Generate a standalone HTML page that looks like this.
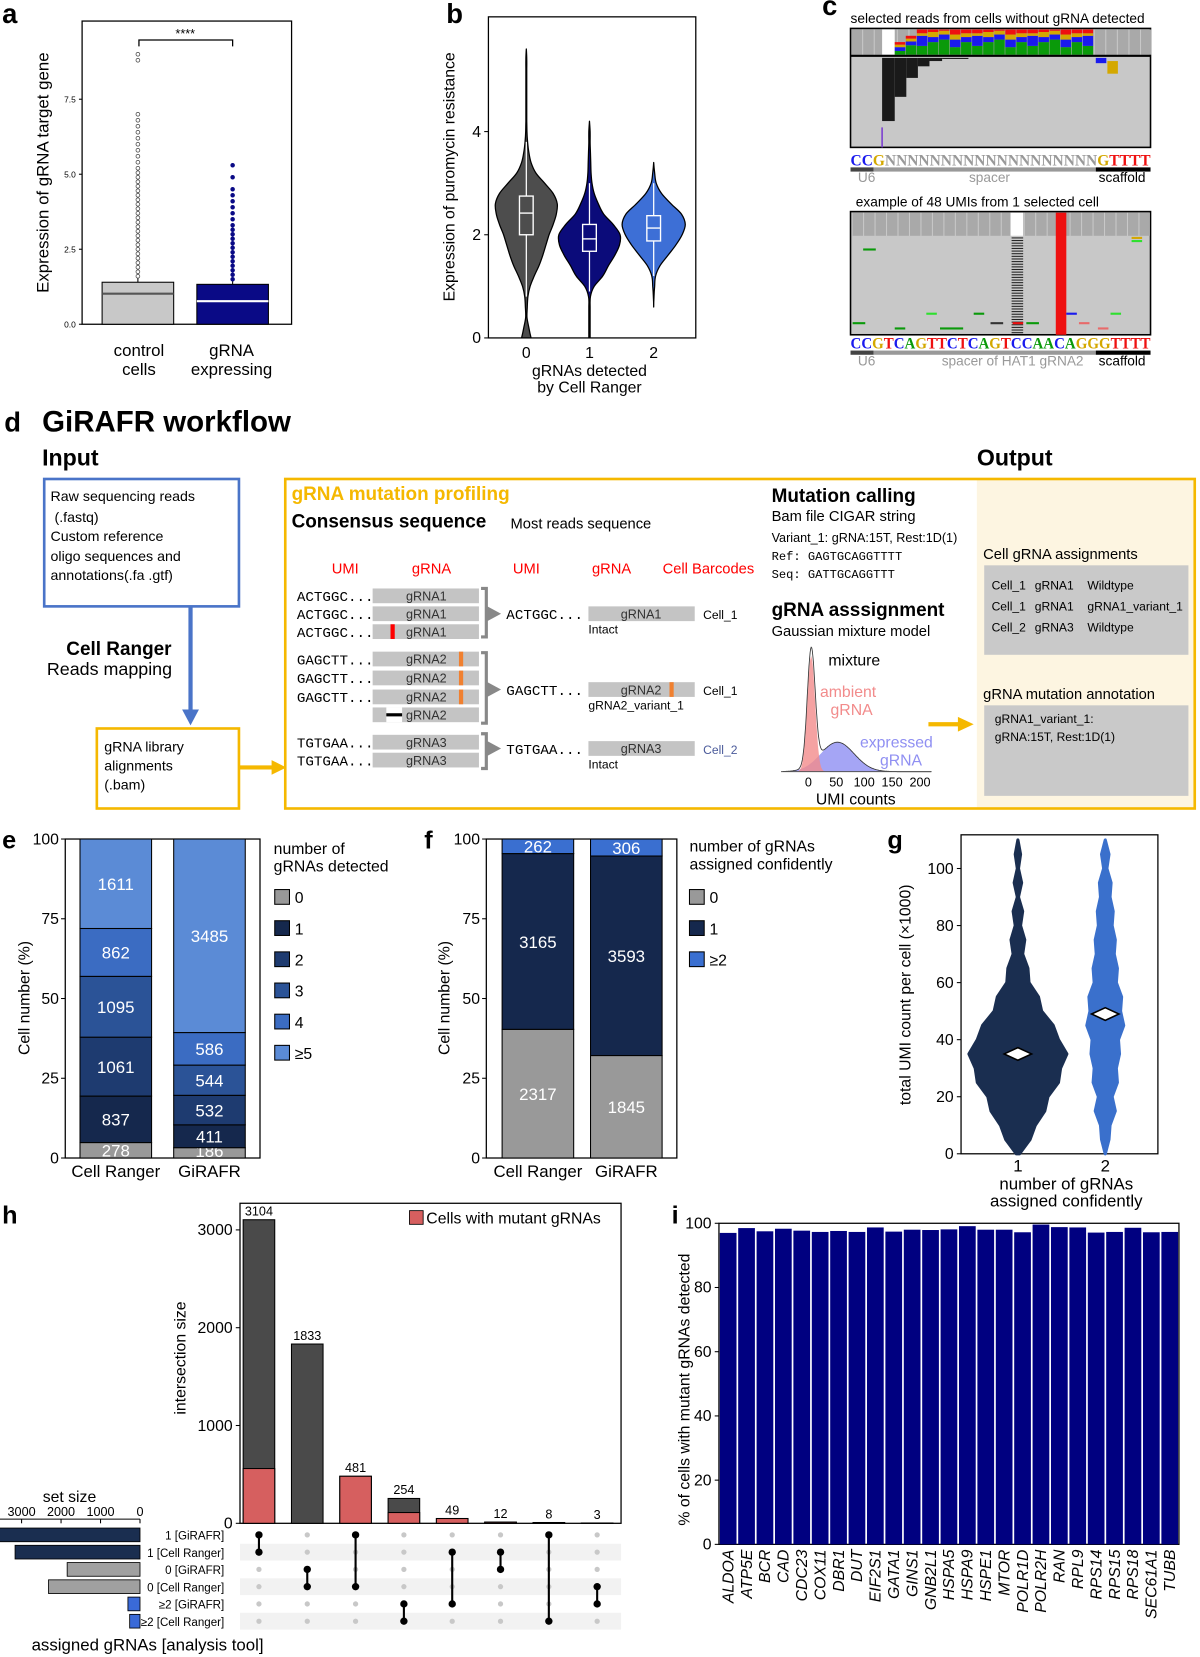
<!DOCTYPE html>
<html><head><meta charset="utf-8"><style>
html,body{margin:0;padding:0;background:#fff;}
svg{display:block;font-family:"Liberation Sans",sans-serif;}
.n{font-family:"Liberation Sans Narrow","Liberation Sans",sans-serif;}
.m{font-family:"Liberation Mono",monospace;}
</style></head><body>
<svg id="fig" xmlns="http://www.w3.org/2000/svg" width="1200" height="1657" viewBox="0 0 1140 1574" preserveAspectRatio="none">
<rect x="0" y="0" width="1140" height="1574" fill="#fff"/>
<text x="2" y="22" font-size="26" font-weight="bold">a</text>
<text x="424" y="22" font-size="26" font-weight="bold">b</text>
<text x="781" y="14" font-size="26" font-weight="bold">c</text>
<text x="4" y="410" font-size="26" font-weight="bold">d</text>
<text x="2" y="806" font-size="24" font-weight="bold">e</text>
<text x="403" y="806" font-size="24" font-weight="bold">f</text>
<text x="843" y="806" font-size="24" font-weight="bold">g</text>
<text x="2" y="1162" font-size="24" font-weight="bold">h</text>
<text x="638" y="1162" font-size="24" font-weight="bold">i</text>

<g id="pa">
<rect x="78" y="20" width="199" height="288" fill="none" stroke="#000" stroke-width="1.2"/>
<text transform="translate(46,164) rotate(-90)" text-anchor="middle" font-size="16">Expression of gRNA target gene</text>
<path d="M132,44 V38 H221 V44" fill="none" stroke="#000" stroke-width="1.2"/>
<text x="176" y="36" text-anchor="middle" font-size="12">****</text>
<text x="132" y="338" text-anchor="middle" font-size="16">control</text>
<text x="132" y="356" text-anchor="middle" font-size="16">cells</text>
<text x="220" y="338" text-anchor="middle" font-size="16">gRNA</text>
<text x="220" y="356" text-anchor="middle" font-size="16">expressing</text>
</g>

<g id="pb">
<rect x="464" y="16" width="197" height="305" fill="none" stroke="#000" stroke-width="1.2"/>
<text transform="translate(432,168) rotate(-90)" text-anchor="middle" font-size="15">Expression of puromycin resistance</text>
<text x="560" y="357" text-anchor="middle" font-size="15">gRNAs detected</text>
<text x="560" y="373" text-anchor="middle" font-size="15">by Cell Ranger</text>
</g>

<g id="pc">
<text x="808" y="22" font-size="13">selected reads from cells without gRNA detected</text>
<text x="813" y="196" font-size="13">example of 48 UMIs from 1 selected cell</text>
</g>

<g id="pd">
<text x="40" y="410" font-size="28" font-weight="bold">GiRAFR workflow</text>
<text x="40" y="442" font-size="22" font-weight="bold" class="n">Input</text>
<text x="928" y="442" font-size="22" font-weight="bold" class="n">Output</text>
<rect x="42" y="455" width="185" height="121" fill="#fff" stroke="#4a74c8" stroke-width="2.5"/>
<text font-size="13.5"><tspan x="48" y="476">Raw sequencing reads</tspan><tspan x="48" y="496"> (.fastq)</tspan><tspan x="48" y="514">Custom reference</tspan><tspan x="48" y="533">oligo sequences and</tspan><tspan x="48" y="551">annotations(.fa .gtf)</tspan></text>
<line x1="181" y1="576" x2="181" y2="676" stroke="#4a74c8" stroke-width="4"/>
<polygon points="173,674 189,674 181,689" fill="#4a74c8"/>
<text x="113" y="622" text-anchor="middle" font-size="18" font-weight="bold">Cell Ranger</text>
<text x="104" y="641" text-anchor="middle" font-size="17">Reads mapping</text>
<rect x="92" y="692" width="135" height="76" fill="#fff" stroke="#f5b800" stroke-width="2.5"/>
<text font-size="13.5"><tspan x="99" y="714">gRNA library</tspan><tspan x="99" y="732">alignments</tspan><tspan x="99" y="750">(.bam)</tspan></text>
<line x1="228" y1="729" x2="260" y2="729" stroke="#f5b800" stroke-width="4"/>
<polygon points="258,722 272,729 258,736" fill="#f5b800"/>
<rect x="928" y="456" width="206" height="311" fill="#fdf5e1"/>
<rect x="271" y="455" width="864" height="313" fill="none" stroke="#f5b800" stroke-width="2.5"/>
<text x="277" y="475" font-size="18" font-weight="bold" fill="#f5b800">gRNA mutation profiling</text>
<text x="277" y="501" font-size="18" font-weight="bold">Consensus sequence</text>
<text x="485" y="502" font-size="14">Most reads sequence</text>
<g font-size="14" fill="#f00">
<text x="328" y="545" text-anchor="middle">UMI</text>
<text x="410" y="545" text-anchor="middle">gRNA</text>
<text x="500" y="545" text-anchor="middle">UMI</text>
<text x="581" y="545" text-anchor="middle">gRNA</text>
<text x="673" y="545" text-anchor="middle">Cell Barcodes</text>
</g>
<g id="dreads"></g>
<text x="733" y="477" font-size="18" font-weight="bold">Mutation calling</text>
<text x="733" y="495" font-size="14">Bam file CIGAR string</text>
<text x="733" y="515" font-size="12">Variant_1: gRNA:15T, Rest:1D(1)</text>
<text x="733" y="532" font-size="11.5" class="m">Ref: GAGTGCAGGTTTT</text>
<text x="733" y="549" font-size="11.5" class="m">Seq: GATTGCAGGTTT</text>
<text x="733" y="585" font-size="18" font-weight="bold">gRNA asssignment</text>
<text x="733" y="604" font-size="14">Gaussian mixture model</text>
<g id="dmix"></g>
<text x="787" y="632" font-size="15">mixture</text>
<text x="779" y="662" font-size="15" fill="#f28b8b">ambient</text>
<text x="789" y="679" font-size="15" fill="#f28b8b">gRNA</text>
<text x="817" y="710" font-size="15" fill="#8f8ff2">expressed</text>
<text x="836" y="727" font-size="15" fill="#8f8ff2">gRNA</text>
<text x="813" y="764" text-anchor="middle" font-size="15">UMI counts</text>
<line x1="882" y1="688" x2="912" y2="688" stroke="#f5b800" stroke-width="4"/>
<polygon points="910,681 925,688 910,695" fill="#f5b800"/>
<text x="934" y="531" font-size="14">Cell gRNA assignments</text>
<rect x="935" y="537" width="194" height="85" fill="#c9c9c9"/>
<g font-size="11.5">
<text x="942" y="560">Cell_1<tspan x="983">gRNA1</tspan><tspan x="1033">Wildtype</tspan></text>
<text x="942" y="580">Cell_1<tspan x="983">gRNA1</tspan><tspan x="1033">gRNA1_variant_1</tspan></text>
<text x="942" y="600">Cell_2<tspan x="983">gRNA3</tspan><tspan x="1033">Wildtype</tspan></text>
</g>
<text x="934" y="664" font-size="14">gRNA mutation annotation</text>
<rect x="935" y="670" width="194" height="86" fill="#c9c9c9"/>
<text x="945" y="687" font-size="11.5">gRNA1_variant_1:</text>
<text x="945" y="704" font-size="11.5">gRNA:15T, Rest:1D(1)</text>
</g>

<text transform="translate(28,948) rotate(-90)" text-anchor="middle" font-size="15">Cell number (%)</text>
<text x="260" y="811" font-size="15">number of</text>
<text x="260" y="828" font-size="15">gRNAs detected</text>
<text transform="translate(427,948) rotate(-90)" text-anchor="middle" font-size="15">Cell number (%)</text>
<text x="655" y="809" font-size="15">number of gRNAs</text>
<text x="655" y="826" font-size="15">assigned confidently</text>
<text transform="translate(865,945) rotate(-90)" text-anchor="middle" font-size="15">total UMI count per cell (×1000)</text>
<text x="1013" y="1130" text-anchor="middle" font-size="16">number of gRNAs</text>
<text x="1013" y="1146" text-anchor="middle" font-size="16">assigned confidently</text>
<text transform="translate(176,1290) rotate(-90)" text-anchor="middle" font-size="15">intersection size</text>
<text x="66" y="1427" text-anchor="middle" font-size="15">set size</text>
<text x="30" y="1568" font-size="16">assigned gRNAs [analysis tool]</text>
<text transform="translate(655,1320) rotate(-90)" text-anchor="middle" font-size="15">% of cells with mutant gRNAs detected</text>
<g id="charts"></g>
</svg>
<script>
// ---------- data ----------
// panel a
const aGroups = ['control', 'gRNA'];
const aMedian = [1.02, 0.77];
const aQ3 = [1.4, 1.33];
const aOutCtrl = [1.6,1.75,1.9,2.05,2.2,2.35,2.5,2.65,2.8,2.95,3.1,3.25,3.4,3.55,3.7,3.85,4.0,4.15,4.3,4.45,4.6,4.75,4.9,5.05,5.2,5.4,5.6,5.8,6.0,6.2,6.4,6.6,6.8,7.0,8.8,9.0];
const aOutGrna = [1.5,1.65,1.8,1.95,2.1,2.25,2.4,2.55,2.7,2.85,3.0,3.15,3.3,3.5,3.7,3.9,4.1,4.3,4.5,4.9,5.3];
const aTicks = [0, 2.5, 5.0, 7.5];
// panel b
const bLevels = [0,0.2,0.4,0.6,0.8,1.0,1.2,1.4,1.6,1.8,2.0,2.2,2.4,2.6,2.8,3.0,3.2,3.4,3.6,3.8,4.0,4.2,4.4,4.6,4.8,5.0,5.2,5.4,5.6];
const bDens0 = [0.15,0.08,0.02,0.03,0.05,0.12,0.25,0.4,0.52,0.62,0.72,0.85,0.95,0.98,0.85,0.58,0.3,0.15,0.08,0.04,0.02,0.015,0.015,0.015,0.015,0.015,0.015,0.015,0];
const bDens1 = [0.02,0.02,0.02,0.02,0.03,0.15,0.42,0.6,0.8,0.95,0.97,0.75,0.45,0.28,0.15,0.08,0.05,0.04,0.03,0.02,0.02,0,0,0,0,0,0,0,0];
const bDens2 = [0,0,0,0,0.01,0.03,0.06,0.2,0.45,0.7,0.9,1.0,0.88,0.55,0.25,0.08,0.03,0,0,0,0,0,0,0,0,0,0,0,0];
const bBoxes = [[2.0,2.42,2.75],[1.68,1.92,2.2],[1.88,2.13,2.37]];
const bWhisk = [[0.8,3.8],[0.9,3.0],[1.2,3.0]];
const bTicks = [0,2,4];
// panel e
const eTools = ['Cell Ranger','GiRAFR'];
const eLegend = ['0','1','2','3','4','≥5'];
const eCR = [278,837,1061,1095,862,1611];
const eGi = [186,411,532,544,586,3485];
// panel f
const fLegend = ['0','1','≥2'];
const fCR = [2317,3165,262];
const fGi = [1845,3593,306];
const pctTicks = [0,25,50,75,100];
// panel g
const gBins = [0,5,10,15,20,25,30,35,40,45,50,55,60,65,70,75,80,85,90,95,100,105,110];
const gWidth1 = [3,10,18,24,30,37,42,45,40,32,24,18,12,8,6,5,4,3,2,2,2,1,0];
const gWidth2 = [0,2,6,8,8,10,12,12,14,16,16,14,12,10,10,8,8,6,6,4,3,2,0];
const gMeans = [35,49];
const gTicks = [0,20,40,60,80,100];
// panel h
const hCounts = [3104,1833,481,254,49,12,8,3];
const hMutant = [560,0,481,110,49,12,8,3];
const hSets = ['1 [GiRAFR]','1 [Cell Ranger]','0 [GiRAFR]','0 [Cell Ranger]','≥2 [GiRAFR]','≥2 [Cell Ranger]'];
const hSetSize = [3593,3165,1845,2317,306,262];
const hCombos = [[0,1],[2,3],[0,3],[4,5],[1,4],[1,2],[0,5],[3,4]];
const hTicks = [0,1000,2000,3000];
const hSetTicks = [3000,2000,1000,0];
// panel i
const iGenes = ['ALDOA','ATP5E','BCR','CAD','CDC23','COX11','DBR1','DUT','EIF2S1','GATA1','GINS1','GNB2L1','HSPA5','HSPA9','HSPE1','MTOR','POLR1D','POLR2H','RAN','RPL9','RPS14','RPS15','RPS18','SEC61A1','TUBB'];
const iValues = [97,98.5,97.5,98.3,97.7,97.3,97.6,97.3,98.7,97.4,98,97.9,98.1,99.1,98,98,97.2,99.6,98.8,98.7,97.1,97.3,98.6,97.2,97.3];
const iTicks = [0,20,40,60,80,100];

const NS = 'http://www.w3.org/2000/svg';
const root = document.getElementById('charts');
function mk(tag, attrs, txt, parent) {
  const el = document.createElementNS(NS, tag);
  for (const k in attrs) el.setAttribute(k, attrs[k]);
  if (txt !== undefined) el.textContent = txt;
  (parent || root).appendChild(el);
  return el;
}
let el;

// ---------- panel a ----------
const ya = v => 308 - v * 28.5;
aTicks.forEach(t => {
  el = mk('line', {x1:75, x2:78, y1:ya(t), y2:ya(t), stroke:'#000'});
  
  
  el = mk('text', {x:72, y:ya(t)+3, 'text-anchor':'end', 'font-size':8}, t.toFixed(1));
  
  
});
const aX = [131, 221], aFill = ['#c8c8c8', '#0a0a86'], aMed = ['#555', '#fff'];
[aOutCtrl, aOutGrna].forEach((outs, g) => {
  el = mk('line', {x1:aX[g], x2:aX[g], y1:ya(aQ3[g]), y2:ya(outs[0]), stroke:'#000'});
  
  
  outs.forEach(v => {
    el = mk('circle', {cx:aX[g], cy:ya(v), r:1.8, fill: g ? '#0a0a86' : '#fff', stroke: g ? '#0a0a86' : '#444', 'stroke-width':0.7});
    
    
  });
  el = mk('rect', {x:aX[g]-34, y:ya(aQ3[g]), width:68, height:ya(0)-ya(aQ3[g]), fill:aFill[g], stroke:'#000'});
  
  
  el = mk('line', {x1:aX[g]-34, x2:aX[g]+34, y1:ya(aMedian[g]), y2:ya(aMedian[g]), stroke:aMed[g], 'stroke-width':2});
  
  
});

// ---------- panel b ----------
const yb = v => 321 - v * 49;
const bX = [500, 560, 621], bCol = ['#4d4d4d', '#0b0b7a', '#3d6fd6'];
bTicks.forEach(t => {
  el = mk('line', {x1:460, x2:464, y1:yb(t), y2:yb(t), stroke:'#000'});
  
  
  el = mk('text', {x:457, y:yb(t)+5, 'text-anchor':'end', 'font-size':15}, t);
  
  
});
function smooth(pts) {
  let p = 'M' + pts[0][0].toFixed(1) + ',' + pts[0][1].toFixed(1);
  for (let i = 0; i < pts.length - 1; i++) {
    const p0 = pts[Math.max(0, i-1)], p1 = pts[i], p2 = pts[i+1], p3 = pts[Math.min(pts.length-1, i+2)];
    const c1 = [p1[0] + (p2[0]-p0[0])/6, p1[1] + (p2[1]-p0[1])/6];
    const c2 = [p2[0] - (p3[0]-p1[0])/6, p2[1] - (p3[1]-p1[1])/6];
    p += ` C${c1[0].toFixed(1)},${c1[1].toFixed(1)} ${c2[0].toFixed(1)},${c2[1].toFixed(1)} ${p2[0].toFixed(1)},${p2[1].toFixed(1)}`;
  }
  return p;
}
[bDens0, bDens1, bDens2].forEach((d, g) => {
  let first = d.findIndex(v => v > 0), last = d.length - 1 - [...d].reverse().findIndex(v => v > 0);
  let lo = Math.max(0, first - 1), hi = Math.min(d.length - 1, last + 1);
  let R = [], L = [];
  for (let i = lo; i <= hi; i++) { R.push([bX[g] + d[i]*30, yb(bLevels[i])]); L.push([bX[g] - d[i]*30, yb(bLevels[i])]); }
  let p = smooth(R) + ' L' + L[L.length-1][0] + ',' + L[L.length-1][1] + ' ' + smooth(L.reverse()).slice(1).replace(/^[^C]*/, '');
  el = mk('path', {d:p + 'Z', fill:bCol[g], stroke:'#000', 'stroke-width':1.2, 'stroke-linejoin':'round'});
  
  
  el = mk('line', {x1:bX[g], x2:bX[g], y1:yb(bWhisk[g][0]), y2:yb(bWhisk[g][1]), stroke:'#fff', 'stroke-width':1.2});
  
  
  const b = bBoxes[g];
  el = mk('rect', {x:bX[g]-6.5, y:yb(b[2]), width:13, height:yb(b[0])-yb(b[2]), fill:bCol[g], stroke:'#fff', 'stroke-width':1.3});
  
  
  el = mk('line', {x1:bX[g]-6.5, x2:bX[g]+6.5, y1:yb(b[1]), y2:yb(b[1]), stroke:'#fff', 'stroke-width':1.3});
  
  
  el = mk('text', {x:bX[g], y:340, 'text-anchor':'middle', 'font-size':15}, g);
  
  
});

// ---------- panel c ----------
function cBox(y0, h) {
  el = mk('rect', {x:808, y:y0, width:285, height:h, fill:'#c8c8c8', stroke:'#000', 'stroke-width':1.5});
  
  
}
cBox(27, 113);
for (let i = 0; i < 26; i++) {
  el = mk('rect', {x:809 + i * 11, y:28, width:10, height:24, fill:'#a9a9a9'});
  
  
}
el = mk('rect', {x:838, y:28, width:12, height:24, fill:'#fff'});


const cStackCols = ['#0a9a0a', '#1a1aee', '#d4a800', '#ee1010'];
for (let i = 0; i < 18; i++) {
  const x = 850 + i * 10.5;
  const fr = [[0.3,0.3,0.2,0.2],[0.5,0.2,0.15,0.15],[0.35,0.4,0.1,0.15],[0.5,0.2,0.2,0.1],[0.6,0.2,0.15,0.05]][i % 5];
  let yy = 52; const tot = i < 2 ? 12 + i * 6 : 24;
  fr.forEach((f, k) => {
    el = mk('rect', {x:x, y:yy - f*tot, width:10, height:f*tot, fill:cStackCols[k]});
    
    
    yy -= f*tot;
  });
}
el = mk('line', {x1:808, x2:1093, y1:53, y2:53, stroke:'#000', 'stroke-width':2});


[[838,850,115],[850,861,92],[861,872,74],[872,883,63],[883,895,58],[895,920,56]].forEach(s => {
  el = mk('rect', {x:s[0], y:55, width:s[1]-s[0], height:s[2]-55, fill:'#1a1a1a'});
  
  
});
el = mk('rect', {x:1041, y:55, width:10, height:5, fill:'#1a1aee'});


el = mk('rect', {x:1052, y:58, width:10, height:12, fill:'#d4a800'});


el = mk('line', {x1:838, x2:838, y1:121, y2:140, stroke:'#7b3fd0', 'stroke-width':1.5});


function cSeq(y, letters, cols, lab) {
  const t = mk('text', {x:808, y:y, 'font-size':15, 'font-family':'Liberation Serif, serif', 'font-weight':'bold', textLength:285, lengthAdjust:'spacingAndGlyphs'});
  
  
  for (let i = 0; i < letters.length; i++) {
    el = mk('tspan', {fill:cols[letters[i]] || '#999'}, letters[i], t);
    
    
  }
}
const baseCol = {A:'#0a9a0a', C:'#1a1aee', G:'#d4a800', T:'#ee1010', N:'#999'};
cSeq(157, 'CCGNNNNNNNNNNNNNNNNNNNGTTTT', baseCol, 'c-top-sequence');
function cBar(y, lab2) {
  el = mk('rect', {x:808, y:y, width:22, height:4, fill:'#444'});
  
  
  el = mk('rect', {x:830, y:y, width:211, height:4, fill:'#999'});
  
  
  el = mk('rect', {x:1041, y:y, width:52, height:4, fill:'#000'});
  
  
  el = mk('text', {x:815, y:y+14, 'font-size':13, fill:'#999'}, 'U6');
  
  
  el = mk('text', {x:lab2[1], y:y+14, 'font-size':13, fill:'#999', 'text-anchor':'middle'}, lab2[0]);
  
  
  el = mk('text', {x:1066, y:y+14, 'font-size':13, 'text-anchor':'middle'}, 'scaffold');
  
  
}
cBar(159, ['spacer', 940]);
cBox(201, 117);
for (let i = 0; i < 26; i++) {
  el = mk('rect', {x:810 + i * 10.9, y:202, width:9.9, height:22, fill:'#a9a9a9'});
  
  
}
el = mk('rect', {x:960, y:202, width:12, height:22, fill:'#fff'});


el = mk('rect', {x:1003, y:202, width:10, height:116, fill:'#ee1010'});


for (let y = 226; y < 318; y += 2.5) {
  el = mk('line', {x1:961, x2:972, y1:y, y2:y, stroke:'#222', 'stroke-width':1});
  
  
}
[[820,236,12,'#0a9a0a'],[880,297,10,'#2ee02e'],[925,297,10,'#0a9a0a'],[810,306,12,'#0a9a0a'],[850,311,10,'#0a9a0a'],[893,311,22,'#0a9a0a'],[941,306,12,'#333'],[975,306,12,'#0a9a0a'],[1013,297,10,'#1a1aee'],[1025,306,10,'#e86a6a'],[1055,297,10,'#2ee02e'],[1043,311,10,'#e86a6a'],[1075,228,10,'#2ee02e'],[1075,225,10,'#d4a800'],[962,306,10,'#ee1010']].forEach(s => {
  el = mk('rect', {x:s[0], y:s[1], width:s[2], height:2, fill:s[3]});
  
  
});
cSeq(331, 'CCGTCAGTTCTCAGTCCAACAGGGTTTT', baseCol, 'c-bottom-sequence');
cBar(333, ['spacer of HAT1 gRNA2', 962]);

// ---------- panel d reads ----------
const dG = document.getElementById('dreads');
const dRows = [[566,'ACTGGC','gRNA1',''],[583,'ACTGGC','gRNA1',''],[600,'ACTGGC','gRNA1','red'],[626,'GAGCTT','gRNA2','org'],[644,'GAGCTT','gRNA2','org'],[662,'GAGCTT','gRNA2','org'],[679,'','gRNA2','del'],[705,'TGTGAA','gRNA3',''],[722,'TGTGAA','gRNA3','']];
dRows.forEach(r => {
  if (r[1]) {
    el = mk('text', {x:282, y:r[0]+5, 'font-size':13.5, class:'m'}, r[1] + '...', dG);
    
    
  }
  el = mk('rect', {x:354, y:r[0]-7, width:101, height:14, fill:'#c4c4c4'}, undefined, dG);
  
  
  if (r[3] === 'red') { el = mk('rect', {x:371, y:r[0]-7, width:4, height:14, fill:'#f00'}, undefined, dG);   }
  if (r[3] === 'org') { el = mk('rect', {x:436, y:r[0]-7, width:4, height:14, fill:'#f08030'}, undefined, dG);   }
  if (r[3] === 'del') {
    el = mk('rect', {x:367, y:r[0]-7, width:15, height:14, fill:'#fff'}, undefined, dG);
    
    
    el = mk('rect', {x:367, y:r[0]-1.5, width:15, height:3, fill:'#000'}, undefined, dG);
    
    
  }
  el = mk('text', {x:405, y:r[0]+4.5, 'font-size':12, 'text-anchor':'middle', fill:'#333'}, r[2], dG);
  
  
});
[[559,605,583,'ACTGGC','gRNA1','Intact','Cell_1',''],[620,687,655,'GAGCTT','gRNA2','gRNA2_variant_1','Cell_1','org'],[697,730,711,'TGTGAA','gRNA3','Intact','Cell_2','']].forEach(g => {
  el = mk('path', {d:`M457,${g[0]} H462 V${g[1]} H457`, fill:'none', stroke:'#888', 'stroke-width':3}, undefined, dG);
  
  
  el = mk('polygon', {points:`463,${g[2]-7} 476,${g[2]} 463,${g[2]+7}`, fill:'#888'}, undefined, dG);
  
  
  el = mk('text', {x:481, y:g[2]+5, 'font-size':13.5, class:'m'}, g[3] + '...', dG);
  
  
  el = mk('rect', {x:559, y:g[2]-7, width:101, height:14, fill:'#c4c4c4'}, undefined, dG);
  
  
  if (g[7]) { el = mk('rect', {x:636, y:g[2]-7, width:4, height:14, fill:'#f08030'}, undefined, dG);   }
  el = mk('text', {x:609, y:g[2]+4.5, 'font-size':12, 'text-anchor':'middle', fill:'#333'}, g[4], dG);
  
  
  el = mk('text', {x:559, y:g[2]+19, 'font-size':11.5}, g[5], dG);
  
  
  el = mk('text', {x:668, y:g[2]+5, 'font-size':11.5, fill: g[6]==='Cell_2' ? '#4a5a9a' : '#000'}, g[6], dG);
  
  
});
const dM = document.getElementById('dmix');
const xm = u => 768 + u * 0.53;
function gPath(mu, sd, h) {
  let p = `M${xm(-45)},733`;
  for (let u = -45; u <= 220; u += 2) p += ` L${xm(u).toFixed(1)},${(733 - h*Math.exp(-0.5*((u-mu)/sd)**2)).toFixed(1)}`;
  return p + ` L${xm(220)},733 Z`;
}
el = mk('path', {d:gPath(52, 30, 28), fill:'#8f8ff2', 'fill-opacity':0.8}, undefined, dM);


el = mk('path', {d:gPath(5, 7, 110), fill:'#f28b8b', 'fill-opacity':0.8}, undefined, dM);


let mp = `M${xm(-45)},733`;
for (let u = -45; u <= 220; u += 1) { const v = 110*Math.exp(-0.5*((u-5)/7)**2) + 28*Math.exp(-0.5*((u-52)/30)**2); mp += ` L${xm(u).toFixed(1)},${(733-v).toFixed(1)}`; }
el = mk('path', {d:mp, fill:'none', stroke:'#333', 'stroke-width':0.8}, undefined, dM);


el = mk('line', {x1:742, x2:885, y1:733, y2:733, stroke:'#555'}, undefined, dM);


[0,50,100,150,200].forEach(t => {
  el = mk('text', {x:xm(t), y:747, 'font-size':12, 'text-anchor':'middle'}, t, dM);
  
  
});

// ---------- stacked bars (e, f) ----------
function stacked(x0, w, cx, vals, cols, pfx, legendX, legendLab) {
  const ys = p => 1100 - p * 3.03;
  el = mk('rect', {x:x0, y:797, width:w, height:303, fill:'none', stroke:'#000', 'stroke-width':1.2});
  
  
  pctTicks.forEach(t => {
    el = mk('line', {x1:x0-4, x2:x0, y1:ys(t), y2:ys(t), stroke:'#000'});
    
    
    el = mk('text', {x:x0-6, y:ys(t)+5, 'font-size':15, 'text-anchor':'end'}, t);
    
    
  });
  vals.forEach((arr, b) => {
    const tot = arr.reduce((a, c) => a + c, 0);
    let acc = 0;
    arr.forEach((v, k) => {
      const y1 = ys(acc / tot * 100), y2 = ys((acc + v) / tot * 100);
      el = mk('rect', {x:cx[b]-34, y:y2, width:68, height:y1-y2, fill:cols[k], stroke:'#000', 'stroke-width':1});
      
      
      el = mk('text', {x:cx[b], y:Math.min((y1+y2)/2 + 6, 1099), 'font-size':16, 'text-anchor':'middle', fill:'#fff'}, v);
      
      
      acc += v;
    });
    el = mk('text', {x:cx[b], y:1118, 'font-size':16, 'text-anchor':'middle'}, eTools[b]);
    
    
  });
  legendLab.forEach((l, k) => {
    const y = 853 + k * 29.6;
    el = mk('rect', {x:legendX, y:y-8, width:14, height:14, fill:cols[k], stroke:'#000'});
    
    
    el = mk('text', {x:legendX+19, y:y+5, 'font-size':15}, l);
    
    
  });
}
stacked(62, 185, [110, 199], [eCR, eGi], ['#999999','#15284d','#1e3b70','#2b5397','#3b6cc2','#5b8bd6'], 'e', 261, eLegend);
stacked(462, 181, [511, 595], [fCR, fGi], ['#999999','#15284d','#3a6fd0'], 'f', 655, fLegend);

// ---------- panel g ----------
const yg = v => 1096 - v * 2.71;
el = mk('rect', {x:913, y:793, width:187, height:303, fill:'none', stroke:'#000', 'stroke-width':1.2});


gTicks.forEach(t => {
  el = mk('line', {x1:909, x2:913, y1:yg(t), y2:yg(t), stroke:'#000'});
  
  
  el = mk('text', {x:906, y:yg(t)+5, 'font-size':15, 'text-anchor':'end'}, t);
  
  
});
const gX = [967, 1050], gCol = ['#1a2e50', '#3a70cc'];
[gWidth1, gWidth2].forEach((w, g) => {
  let R = [], L = [];
  gBins.forEach((b, i) => { const j = (i % 2) ? 1.5 : -1.5; R.push(`${gX[g] + w[i] + (w[i] ? j : 0)},${yg(b)}`); L.unshift(`${gX[g] - w[i] - (w[i] ? j : 0)},${yg(b)}`); });
  el = mk('polygon', {points:R.concat(L).join(' '), fill:gCol[g], stroke:gCol[g], 'stroke-width':3, 'stroke-linejoin':'round'});
  
  
  const my = yg(gMeans[g]);
  el = mk('polygon', {points:`${gX[g]-13},${my} ${gX[g]},${my-6} ${gX[g]+13},${my} ${gX[g]},${my+6}`, fill:'#fff', stroke:'#000', 'stroke-width':1.5});
  
  
  el = mk('text', {x:gX[g], y:1113, 'font-size':16, 'text-anchor':'middle'}, g + 1);
  
  
});

// ---------- panel h ----------
const yh = v => 1447 - v * 0.0929;
const hx = i => 246 + i * 45.9;
el = mk('rect', {x:228, y:1143, width:362, height:304, fill:'none', stroke:'#000', 'stroke-width':1.2});


hTicks.forEach(t => {
  el = mk('line', {x1:224, x2:228, y1:yh(t), y2:yh(t), stroke:'#000'});
  
  
  el = mk('text', {x:221, y:yh(t)+5, 'font-size':15, 'text-anchor':'end'}, t);
  
  
});
el = mk('rect', {x:389, y:1150, width:13, height:13, fill:'#d65f5f', stroke:'#000', 'stroke-width':0.8});


el = mk('text', {x:405, y:1162, 'font-size':15}, 'Cells with mutant gRNAs');


hCounts.forEach((c, i) => {
  el = mk('rect', {x:hx(i)-15, y:yh(c), width:30, height:yh(0)-yh(c), fill:'#4a4a4a', stroke:'#000', 'stroke-width':1});
  
  
  if (hMutant[i] > 0) {
    el = mk('rect', {x:hx(i)-15, y:yh(hMutant[i]), width:30, height:yh(0)-yh(hMutant[i]), fill:'#d65f5f', stroke:'#000', 'stroke-width':1});
    
    
  }
  el = mk('text', {x:hx(i), y:yh(c)-4, 'font-size':12, 'text-anchor':'middle'}, c);
  
  
});
const hy = r => 1458 + r * 16.4;
hSets.forEach((s, r) => {
  if (r % 2 === 1) {
    el = mk('rect', {x:228, y:hy(r)-8, width:362, height:16, fill:'#f2f2f2'});
    
    
  }
  el = mk('text', {x:213, y:hy(r)+4.5, 'font-size':11, 'text-anchor':'end'}, s);
  
  
  const w = hSetSize[r] * 0.0375;
  el = mk('rect', {x:133-w, y:hy(r)-6.5, width:w, height:13, fill: r < 2 ? '#1a2e50' : (r < 4 ? '#a0a0a0' : '#3a6ad8'), stroke:'#000', 'stroke-width':0.8});
  
  
});
hCounts.forEach((c, i) => {
  hSets.forEach((s, r) => {
    el = mk('circle', {cx:hx(i), cy:hy(r), r:2.5, fill:'#c8c8c8'});
    
    
  });
  const cb = hCombos[i];
  el = mk('line', {x1:hx(i), x2:hx(i), y1:hy(cb[0]), y2:hy(cb[1]), stroke:'#000', 'stroke-width':2});
  
  
  cb.forEach(r => {
    el = mk('circle', {cx:hx(i), cy:hy(r), r:3.5, fill:'#000'});
    
    
  });
});
el = mk('line', {x1:0, x2:133, y1:1443, y2:1443, stroke:'#000'});


hSetTicks.forEach(t => {
  el = mk('line', {x1:133 - t*0.0375, x2:133 - t*0.0375, y1:1443, y2:1447, stroke:'#000'});
  
  
  el = mk('text', {x:133 - t*0.0375, y:1440, 'font-size':12, 'text-anchor':'middle'}, t);
  
  
});

// ---------- panel i ----------
const yi = v => 1467 - v * 3.05;
const bw = 437 / iGenes.length;
el = mk('rect', {x:683, y:yi(100), width:437, height:305, fill:'none', stroke:'#000', 'stroke-width':1.2});


iTicks.forEach(t => {
  el = mk('line', {x1:679, x2:683, y1:yi(t), y2:yi(t), stroke:'#000'});
  
  
  el = mk('text', {x:676, y:yi(t)+5, 'font-size':15, 'text-anchor':'end'}, t);
  
  
});
iGenes.forEach((g, k) => {
  const cx = 683 + bw * (k + 0.5);
  el = mk('rect', {x:cx - bw/2 + 0.8, y:yi(iValues[k]), width:bw - 1.6, height:yi(0) - yi(iValues[k]), fill:'#000080'});
  
  
  el = mk('text', {transform:`translate(${cx+5},1472) rotate(-90)`, 'font-size':15, 'font-style':'italic', 'text-anchor':'end'}, g);
  
  
});
</script>
</body></html>
